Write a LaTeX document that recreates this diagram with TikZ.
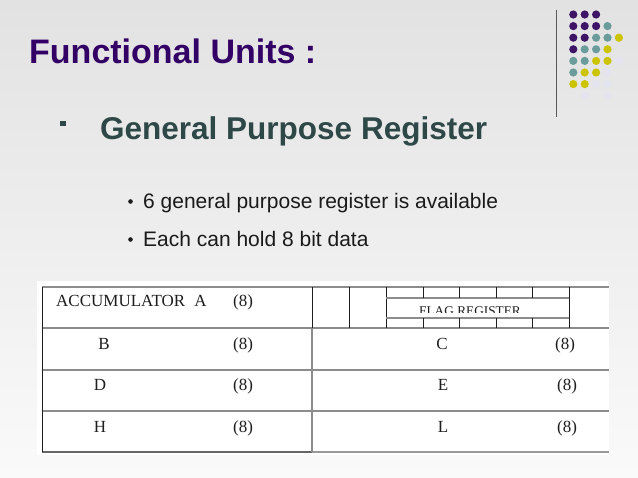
\documentclass[tikz,border=0pt]{standalone}
\usepackage{fontspec}
\setmainfont{Liberation Sans}
\newfontfamily\serifreg{Liberation Serif}
\definecolor{bgtop}{HTML}{E2E2E2}
\definecolor{bgbot}{HTML}{FAFAFA}
\definecolor{titlepurple}{HTML}{330066}
\definecolor{subslate}{HTML}{2E4848}
\definecolor{bodytext}{HTML}{1A1A1A}
\definecolor{dotP}{HTML}{3D1466}
\definecolor{dotT}{HTML}{6A9C9C}
\definecolor{dotY}{HTML}{CCC400}
\definecolor{dotL}{HTML}{E4E4F0}
\definecolor{tgray}{HTML}{8C8C8C}
\definecolor{tdark}{HTML}{1E1E1E}
\tikzset{
  titletext/.style={anchor=base west, inner sep=0, text=titlepurple, font=\bfseries\fontsize{34}{40}\selectfont},
  subtext/.style={anchor=base west, inner sep=0, text=subslate, font=\bfseries\fontsize{31.5}{36}\selectfont},
  bodyline/.style={anchor=base west, inner sep=0, text=bodytext, font=\fontsize{21}{25}\selectfont},
  celltext/.style={anchor=base, inner sep=0, text=tdark, font=\serifreg\fontsize{17}{20}\selectfont},
  darkline/.style={draw=tdark, line width=1pt},
  grayline/.style={draw=tgray, line width=1.5pt}
}
\begin{document}
\begin{tikzpicture}[x=1pt,y=-1pt]
\useasboundingbox (0,0) rectangle (638,478);
\shade[top color=bgtop, bottom color=bgbot] (0,0) rectangle (638,478);

% decoration
\draw[draw=black!65, line width=0.9pt] (556,10) -- (556,117);
\foreach \r/\c/\col in {0/0/dotP,0/1/dotP,0/2/dotP,
  1/0/dotP,1/1/dotP,1/2/dotP,1/3/dotT,
  2/0/dotP,2/1/dotP,2/2/dotT,2/3/dotT,2/4/dotY,
  3/0/dotP,3/1/dotT,3/2/dotT,3/3/dotY,
  4/0/dotT,4/1/dotT,4/2/dotY,4/3/dotY,4/4/dotL,
  5/0/dotT,5/1/dotY,5/2/dotY,5/3/dotL,
  6/0/dotY,6/1/dotY,6/2/dotL,6/3/dotL,
  7/1/dotL,7/3/dotL}
  \fill[\col] ({573.3+11.4*\c},{14.5+11.6*\r}) circle (4.1);

% texts
\node[titletext] (title) at (29,64) {Functional Units :};
\fill[subslate] (60,121) rectangle (65.5,126.5);
\node[subtext] (sub) at (100,140) {General Purpose Register};
\fill[bodytext] (130.5,201.5) circle (2.3);
\node[bodyline] (b1) at (143,208.5) {6 general purpose register is available};
\fill[bodytext] (130.5,239.5) circle (2.3);
\node[bodyline] (b2) at (143,246.5) {Each can hold 8 bit data};

% table
\fill[white] (37,281) rectangle (609,455);
\draw[grayline] (42,287) -- (609,287);
\draw[grayline] (42,328) -- (609,328);
\draw[grayline] (42,370) -- (609,370);
\draw[grayline] (42,411) -- (609,411);
\draw[draw=black!60, line width=1.3pt] (42,452) -- (312,452);
\draw[draw=black!40, line width=1.3pt] (312,452) -- (609,452);
\draw[darkline] (42,287) -- (42,452);
\draw[darkline] (312,287) -- (312,328);
\draw[grayline] (312,328) -- (312,452);
\foreach \x in {349,386,569} \draw[darkline] (\x,287) -- (\x,328);
\draw[draw=tgray, line width=1.1pt] (386,298) -- (569,298);
\draw[draw=tgray, line width=1.1pt] (386,318) -- (569,318);
\foreach \x in {423,459,496,532} {
  \draw[darkline] (\x,287) -- (\x,298);
  \draw[darkline] (\x,318) -- (\x,328);
}
\begin{scope}
\clip (387,299) rectangle (568,312.5);
\node[anchor=base, inner sep=0, text=tdark, font=\serifreg\fontsize{13.3}{15}\selectfont] (flag) at (470,315.5) {FLAG REGISTER};
\end{scope}

\node[anchor=base west, inner sep=0, text=tdark, font=\serifreg\fontsize{17}{20}\selectfont] (acc) at (56,307) {ACCUMULATOR\hspace{9pt}A};
\node[celltext] (a8) at (243,307) {(8)};
\node[celltext] (rb) at (104,350) {B};
\node[celltext] (b8) at (243,350) {(8)};
\node[celltext] (rd) at (100,391) {D};
\node[celltext] (d8) at (243,391) {(8)};
\node[celltext] (rh) at (100,432.5) {H};
\node[celltext] (h8) at (243,432.5) {(8)};
\node[celltext] (rc) at (442,350) {C};
\node[celltext] (c8) at (565,350) {(8)};
\node[celltext] (re) at (443,391) {E};
\node[celltext] (e8) at (567,391) {(8)};
\node[celltext] (rl) at (443,432.5) {L};
\node[celltext] (l8) at (567,432.5) {(8)};
\end{tikzpicture}
\end{document}
